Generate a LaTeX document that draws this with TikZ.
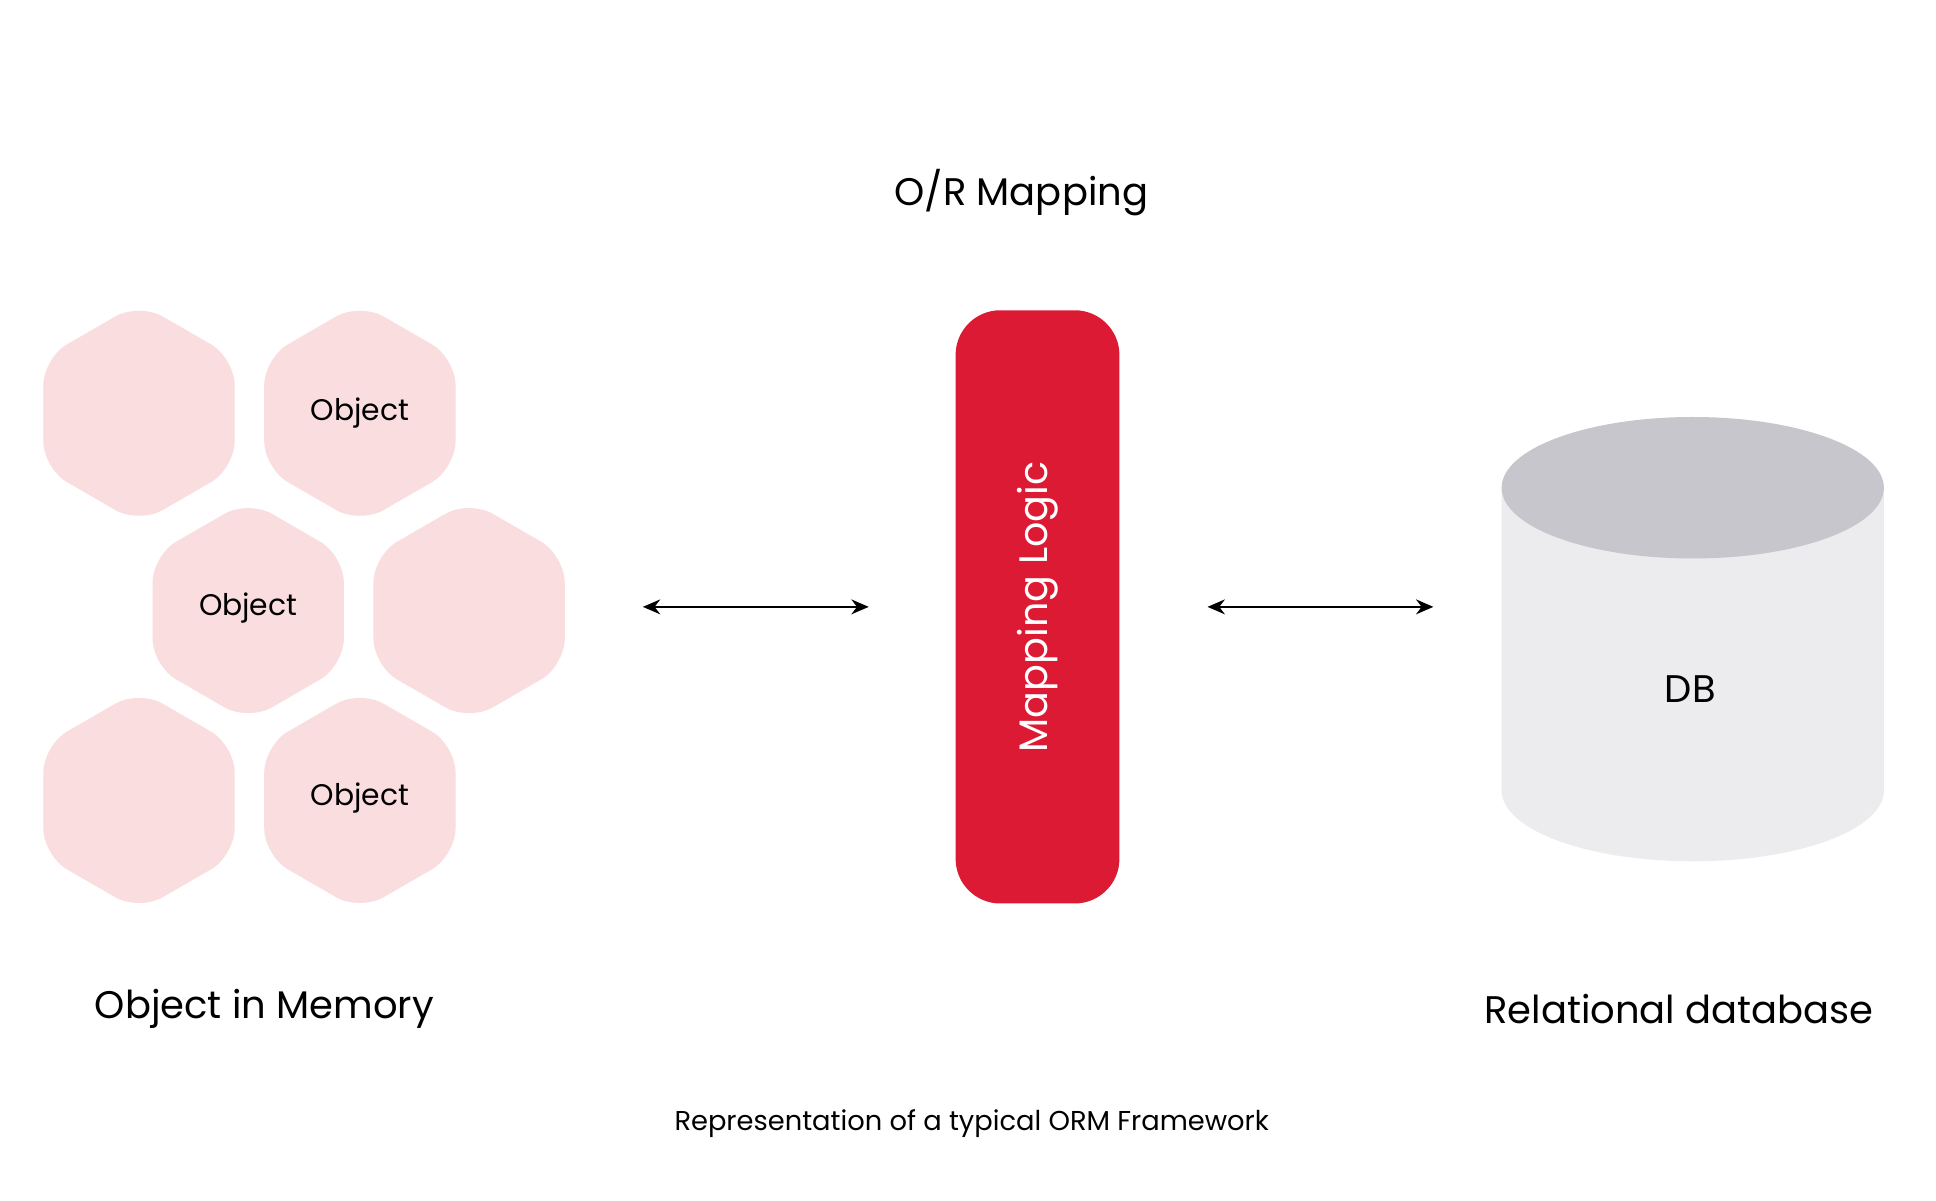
\documentclass[tikz,border=0pt]{standalone}
\usepackage{fontspec}
\setmainfont{Poppins}
\usetikzlibrary{arrows.meta,calc}
\definecolor{hexpink}{HTML}{FADDDF}
\definecolor{ormred}{HTML}{DC1A33}
\definecolor{cylbody}{HTML}{ECECEE}
\definecolor{cyltop}{HTML}{C6C6CC}
\tikzset{
  hexfill/.style={fill=hexpink,rounded corners=22pt},
  lbl/.style={font=\fontsize{24}{28}\selectfont,text=black},
  big/.style={font=\fontsize{31}{36}\selectfont,text=black},
  conn/.style={{Stealth[length=14pt,width=12pt]}-{Stealth[length=14pt,width=12pt]},line width=1.4pt}
}
\newcommand{\myhex}[3]{%
  \fill[hexfill] ($(#1,#2)+(90:#3)$) -- ($(#1,#2)+(150:#3)$) -- ($(#1,#2)+(210:#3)$) -- ($(#1,#2)+(270:#3)$) -- ($(#1,#2)+(330:#3)$) -- ($(#1,#2)+(30:#3)$) -- cycle;}
\begin{document}
\begin{tikzpicture}[x=1pt,y=-1pt]
\useasboundingbox (0,0) rectangle (1560,967);
\fill[white] (0,0) rectangle (1560,967);
\myhex{112}{333}{89}
\myhex{290}{333}{89}
\myhex{200}{492}{89}
\myhex{378}{492}{89}
\myhex{112}{645}{89}
\myhex{290}{645}{89}
\node[lbl] (o1) at (290,333) {Object};
\node[lbl] (o2) at (200,490) {Object};
\node[lbl] (o3) at (290,643) {Object};
% mapping logic
\node[fill=ormred,rounded corners=36pt,minimum width=132pt,minimum height=478pt,inner sep=0pt] (ml) at (836,489) {};
\node[rotate=90,text=white,font=\fontsize{32}{36}\selectfont] at (ml.center) {Mapping Logic};
% cylinder
\fill[cylbody] (1210,393) -- (1210,637) arc[start angle=180,end angle=0,x radius=154,y radius=57] -- (1518,393) -- cycle;
\fill[cyltop] (1364,393) ellipse[x radius=154,y radius=57];
\node[big] (db) at (1362,555) {DB};
\coordinate (a1) at (518,489); \coordinate (a2) at (700,489);
\coordinate (b1) at (973,489); \coordinate (b2) at (1155,489);
\draw[conn] (a1) -- (a2);
\draw[conn] (b1) -- (b2);
\node[big] (t) at (823,155) {O/R Mapping};
\node[big] (l) at (213,813) {Object in Memory};
\node[big] (r) at (1353,813) {Relational database};
\node[font=\fontsize{22}{26}\selectfont] (c) at (783,905) {Representation of a typical ORM Framework};
\end{tikzpicture}
\end{document}
